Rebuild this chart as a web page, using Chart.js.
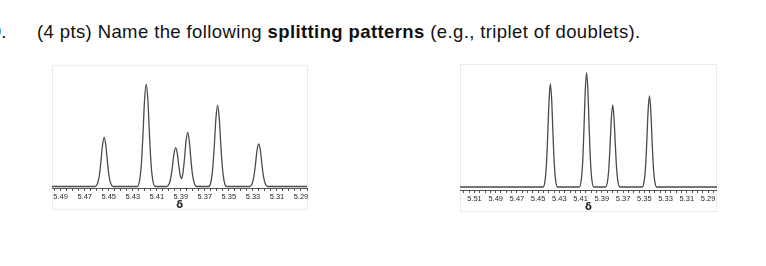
<!DOCTYPE html>
<html lang="en">
<head>
<meta charset="utf-8">
<title>Splitting patterns</title>
<script src="https://cdn.jsdelivr.net/npm/chart.js"></script>
<style>
  body { margin: 0; width: 766px; height: 266px; background: #fff; position: relative; overflow: hidden;
         font-family: "Liberation Sans", Arial, Helvetica, sans-serif; }
  .q { position: absolute; top: 23px; left: 37px; font-size: 18.5px; line-height: 18px; letter-spacing: 0.39px; color: #111; white-space: nowrap; }
  .num { position: absolute; top: 23px; left: -9px; font-size: 18.5px; line-height: 18px; color: #111; }
  .frame { position: absolute; border: 1px solid #ebebeb; box-sizing: border-box; }
  canvas { position: absolute; }
</style>
</head>
<body>
<div class="num">9.</div>
<div class="q">(4 pts) Name the following <b>splitting patterns</b> (e.g., triplet of doublets).</div>

<div class="frame" style="left:52px; top:65px; width:256px; height:145px;"></div>
<canvas id="left" width="256" height="145" style="left:52px; top:65px;"></canvas>

<div class="frame" style="left:460px; top:64px; width:257px; height:148px;"></div>
<canvas id="right" width="257" height="148" style="left:460px; top:64px;"></canvas>

<script>
// spectrum 1: chemical shift (ppm) and intensity
const leftShift = [
  5.4972,
  5.4613, 5.4593, 5.4578, 5.4565, 5.4552, 5.4538, 5.4524, 5.4511, 5.4498, 5.4483, 5.4463,
  5.4263, 5.4243, 5.4228, 5.4215, 5.4202, 5.4188, 5.4174, 5.4161, 5.4148, 5.4133, 5.4113,
  5.4018, 5.3998, 5.3983, 5.3970, 5.3957, 5.3943, 5.3929, 5.3916, 5.3903, 5.3893, 5.3883,
  5.3870, 5.3857, 5.3843, 5.3829, 5.3816, 5.3803, 5.3788, 5.3768,
  5.3669, 5.3649, 5.3634, 5.3621, 5.3608, 5.3594, 5.3580, 5.3567, 5.3554, 5.3539, 5.3519,
  5.3327, 5.3307, 5.3292, 5.3279, 5.3266, 5.3252, 5.3238, 5.3225, 5.3212, 5.3197, 5.3177,
  5.2848
];
const leftIntensity = [
  0,
  0, 3, 11, 25, 41, 49, 41, 25, 11, 3, 0,
  0, 6, 23, 52, 86, 102, 86, 52, 23, 6, 0,
  0, 2.4, 8.9, 19.8, 32.6, 38.8, 32.6, 20, 10, 8, 13,
  27, 45, 54, 45, 27, 12, 3.4, 0,
  0, 5, 19, 41, 68, 81, 68, 41, 19, 5, 0,
  0, 2.7, 10, 22, 36, 42.5, 36, 22, 10, 2.7, 0,
  0
];
const leftTicks = ['5.49', '5.47', '5.45', '5.43', '5.41', '5.39', '5.37', '5.35', '5.33', '5.31', '5.29'];

// spectrum 2
const rightShift = [
  5.5236,
  5.4453, 5.4435, 5.4422, 5.4410, 5.4398, 5.4385, 5.4372, 5.4360, 5.4348, 5.4335, 5.4317,
  5.4112, 5.4094, 5.4081, 5.4069, 5.4057, 5.4044, 5.4031, 5.4019, 5.4007, 5.3994, 5.3976,
  5.3866, 5.3848, 5.3835, 5.3823, 5.3811, 5.3798, 5.3785, 5.3773, 5.3761, 5.3748, 5.3730,
  5.3520, 5.3502, 5.3489, 5.3477, 5.3465, 5.3452, 5.3439, 5.3427, 5.3415, 5.3402, 5.3384,
  5.2816
];
const rightIntensity = [
  0,
  0, 6.4, 22.7, 51.5, 85.5, 103, 85.5, 51.5, 22.7, 6.4, 0,
  0, 7, 25, 57, 95, 114, 95, 57, 25, 7, 0,
  0, 5, 18, 41, 68, 82, 68, 41, 18, 5, 0,
  0, 5.6, 20, 45.5, 75.5, 91, 75.5, 45.5, 20, 5.6, 0,
  0
];
const rightTicks = ['5.51', '5.49', '5.47', '5.45', '5.43', '5.41', '5.39', '5.37', '5.35', '5.33', '5.31', '5.29'];

function drawSpectrum(id, shifts, values, labels, xmin, xmax, ymin, ymax) {
  const points = shifts.map((s, i) => ({ x: s, y: values[i] }));
  new Chart(document.getElementById(id), {
    type: 'line',
    data: {
      datasets: [{
        data: points,
        borderColor: '#4a4a4a',
        borderWidth: 1.3,
        pointRadius: 0,
        cubicInterpolationMode: 'monotone',
        fill: false
      }]
    },
    options: {
      responsive: false,
      animation: false,
      events: [],
      layout: { padding: 0 },
      plugins: { legend: { display: false }, tooltip: { enabled: false } },
      scales: {
        x: {
          type: 'linear',
          reverse: true,
          min: xmin,
          max: xmax,
          afterFit: s => { s.height = 22; },
          border: { color: '#555', width: 1 },
          grid: { drawOnChartArea: false, tickLength: 3, color: '#555' },
          ticks: {
            stepSize: 0.005,
            includeBounds: false,
            autoSkip: false,
            maxRotation: 0,
            padding: 1,
            color: '#2a2a2a',
            font: { family: 'Liberation Sans', size: 7.5 },
            callback: v => {
              const n = Math.round(v * 1000);
              if (n % 10 !== 0) return '';
              const t = (n / 1000).toFixed(2);
              return labels.includes(t) ? t : '';
            }
          },
          title: {
            display: true,
            text: 'δ',
            color: '#222',
            padding: 0,
            font: { family: 'DejaVu Sans', size: 10, weight: 'bold', lineHeight: 1 }
          }
        },
        y: { display: false, min: ymin, max: ymax }
      }
    }
  });
}

drawSpectrum('left', leftShift, leftIntensity, leftTicks, 5.2848, 5.4972, -1.5, 121.5);
drawSpectrum('right', rightShift, rightIntensity, rightTicks, 5.2816, 5.5236, -3, 123);
</script>
</body>
</html>
